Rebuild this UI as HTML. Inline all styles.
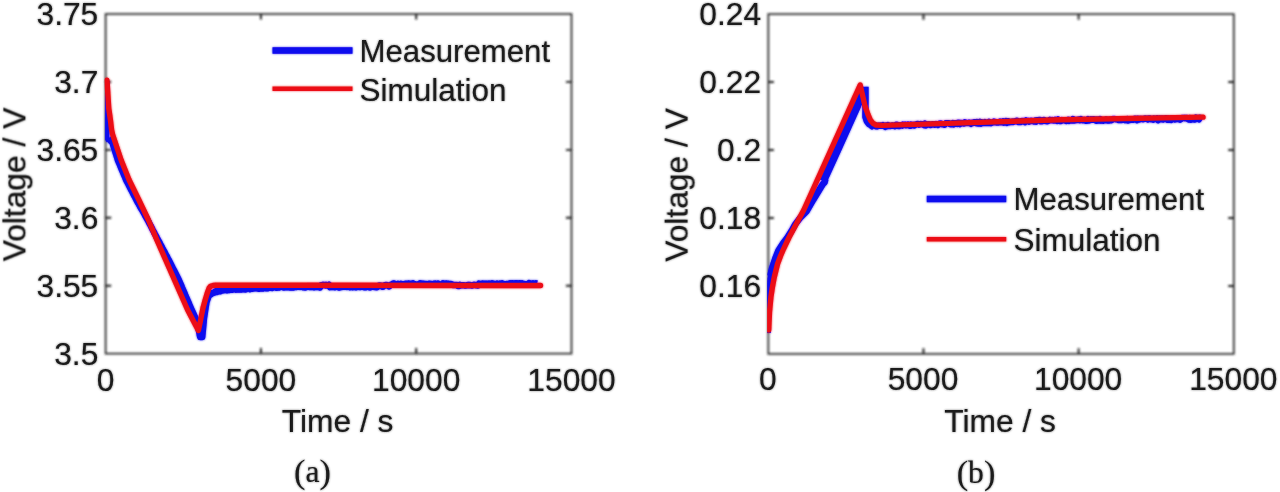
<!DOCTYPE html>
<html lang="en"><head><meta charset="utf-8"><title>Voltage vs Time: Measurement and Simulation</title>
<style>html,body{margin:0;padding:0;background:#fff;}svg{display:block;}</style></head><body>
<svg width="1280" height="492" viewBox="0 0 1280 492">
<defs><filter id="bl1" filterUnits="userSpaceOnUse" x="0" y="0" width="1280" height="492"><feGaussianBlur stdDeviation="0.85"/></filter><filter id="bl2" x="-10%" y="-30%" width="120%" height="160%"><feGaussianBlur stdDeviation="0.8"/><feComponentTransfer result="b"><feFuncA type="linear" slope="0.55"/></feComponentTransfer><feMerge><feMergeNode in="b"/><feMergeNode in="SourceGraphic"/></feMerge></filter><filter id="bl3" filterUnits="userSpaceOnUse" x="0" y="0" width="1280" height="492"><feGaussianBlur stdDeviation="0.8"/><feComponentTransfer result="b"><feFuncA type="linear" slope="0.7"/></feComponentTransfer><feMerge><feMergeNode in="b"/><feMergeNode in="SourceGraphic"/></feMerge></filter></defs>
<rect width="1280" height="492" fill="#fff"/>
<g filter="url(#bl1)">
<rect x="105.6" y="14" width="465.9" height="339.6" fill="none" stroke="#202020" stroke-width="1.65"/>
<path d="M260.90 353.6v-5.6M260.90 14v5.6" stroke="#1a1a1a" stroke-width="1.9"/>
<path d="M416.20 353.6v-5.6M416.20 14v5.6" stroke="#1a1a1a" stroke-width="1.9"/>
<path d="M105.6 81.92h5.6M571.5 81.92h-5.6" stroke="#1a1a1a" stroke-width="1.9"/>
<path d="M105.6 149.84h5.6M571.5 149.84h-5.6" stroke="#1a1a1a" stroke-width="1.9"/>
<path d="M105.6 217.76h5.6M571.5 217.76h-5.6" stroke="#1a1a1a" stroke-width="1.9"/>
<path d="M105.6 285.68h5.6M571.5 285.68h-5.6" stroke="#1a1a1a" stroke-width="1.9"/>
</g>
<clipPath id="ca"><rect x="104.39999999999999" y="14" width="467.09999999999997" height="339.6"/></clipPath>
<g clip-path="url(#ca)" filter="url(#bl3)">
<polyline points="107.3,81.0 107.3,139.0 108.6,141.0" fill="none" stroke="#0c08ee" stroke-width="4.4" stroke-linejoin="round" stroke-linecap="butt"/>
<polyline points="108.4,138.5 109.4,139.5 110.4,140.5 111.5,141.5 112.5,142.5 113.6,146.2 114.8,150.0 115.8,153.3 116.9,156.7 117.9,160.0 118.9,162.5 120.0,165.0 121.0,167.5 122.0,170.0 123.1,172.5 124.1,175.0 125.2,177.5 126.2,180.0 127.2,182.0 128.3,184.0 129.3,186.0 130.3,188.0 131.3,190.0 132.4,192.0 133.4,194.0 134.4,196.0 135.5,198.0 136.5,200.0 137.5,201.8 138.5,203.6 139.5,205.5 140.5,207.3 141.5,209.1 142.6,210.9 143.6,212.7 144.6,214.5 145.6,216.4 146.6,218.2 147.6,220.0 148.7,222.0 149.7,224.0 150.8,226.0 151.8,228.0 152.8,230.0 153.9,232.0 154.9,234.0 156.0,236.0 157.0,238.0 158.1,240.0 159.2,242.0 160.2,244.0 161.3,246.0 162.3,248.0 163.4,250.0 164.5,252.0 165.5,254.0 166.6,256.0 167.6,258.0 168.7,260.0 169.7,262.0 170.7,264.0 171.7,266.0 172.7,268.0 173.8,270.0 174.8,272.0 175.8,274.0 176.8,276.0 177.8,278.0 178.8,280.0 179.9,282.5 181.0,285.0 182.0,287.5 183.1,290.0 184.2,292.5 185.2,295.0 186.3,297.5 187.4,300.0 188.5,302.5 189.5,305.0 190.6,307.5 191.7,310.0 192.8,312.4 193.9,314.8 195.0,317.2 196.1,319.6 197.2,322.0 198.2,327.0 199.2,332.0 200.2,337.0 201.2,337.0 202.2,337.0 204.0,318.0 205.2,310.0 206.5,302.0 207.5,299.1 208.5,296.3 209.8,294.8 211.0,294.1 212.0,293.3 213.0,293.1 214.0,292.7 215.0,291.5 216.0,291.2 217.0,291.9 218.0,290.9 219.0,290.7 220.0,291.3 221.0,290.4 222.0,290.6 223.0,290.1 224.0,290.2 225.0,289.6 226.0,290.1 227.0,290.3 228.0,289.8 229.0,290.0 230.0,289.8 231.0,289.0 232.0,289.8 233.0,289.5 234.0,289.1 235.0,288.7 236.0,289.6 237.0,289.1 238.0,289.4 239.0,289.5 240.0,289.3 241.0,289.5 242.0,288.8 243.0,289.3 244.0,288.8 245.0,289.4 246.0,289.3 247.0,288.3 248.0,288.3 249.0,288.3 250.0,289.2 251.0,288.5 252.0,288.7 253.0,288.3 254.0,288.4 255.0,288.2 256.0,288.2 257.0,288.4 258.0,288.3 259.0,288.7 260.0,288.3 261.0,288.6 262.0,288.4 263.0,288.5 264.0,288.1 265.0,287.4 266.0,288.2 267.0,288.3 268.0,288.2 269.0,287.7 270.0,287.8 271.0,287.2 272.0,287.9 273.0,287.5 274.0,287.1 275.0,286.8 276.0,287.7 277.0,287.8 278.0,286.7 279.0,287.5 280.0,286.9 281.0,286.6 282.0,286.7 283.0,287.3 284.0,287.4 285.0,286.4 286.0,287.1 287.0,286.4 288.0,287.2 289.0,286.7 290.0,287.4 291.0,287.5 292.0,286.9 293.0,287.5 294.0,286.6 295.0,286.3 296.0,287.0 297.0,286.3 298.0,286.5 299.0,286.7 300.0,286.9 301.0,286.4 302.0,286.3 303.0,287.2 304.0,286.6 305.0,287.4 306.0,287.3 307.0,286.7 308.0,286.8 309.0,286.8 310.0,287.0 311.0,286.9 312.0,286.9 313.0,286.9 314.0,287.3 315.0,286.8 316.0,286.7 317.0,287.1 318.0,286.5 319.0,286.6 320.0,287.4 321.0,285.3 322.0,285.4 323.0,284.7 324.0,285.2 325.0,285.4 326.0,284.7 327.0,285.4 328.0,285.5 329.0,284.8 330.0,287.1 331.0,286.9 332.0,287.1 333.0,286.7 334.0,287.1 335.0,287.2 336.0,286.3 337.0,286.4 338.0,287.1 339.0,287.5 340.0,286.6 341.0,286.8 342.0,287.0 343.0,286.7 344.0,286.7 345.0,286.7 346.0,286.7 347.0,287.0 348.0,286.7 349.0,286.8 350.0,287.2 351.0,286.3 352.0,287.0 353.0,287.2 354.0,286.7 355.0,286.6 356.0,287.3 357.0,286.6 358.0,286.5 359.0,286.8 360.0,287.1 361.0,286.4 362.0,286.7 363.0,286.7 364.0,287.3 365.0,286.8 366.0,287.3 367.0,286.5 368.0,286.7 369.0,287.1 370.0,287.4 371.0,286.8 372.0,286.6 373.0,286.4 374.0,286.9 375.0,286.5 376.0,287.3 377.0,287.3 378.0,286.5 379.0,285.7 380.0,285.4 381.0,285.8 382.0,286.7 383.0,286.8 384.0,285.7 385.0,285.1 386.0,284.9 387.0,284.9 388.0,285.6 389.0,286.4 390.0,285.6 391.0,284.7 392.0,284.5 393.0,283.6 394.0,283.4 395.0,284.5 396.0,284.5 397.0,284.6 398.0,283.9 399.0,284.5 400.0,284.5 401.0,283.7 402.0,284.3 403.0,284.4 404.0,284.2 405.0,284.0 406.0,283.7 407.0,283.8 408.0,283.7 409.0,283.5 410.0,284.1 411.0,283.7 412.0,284.4 413.0,283.5 414.0,284.5 415.0,284.2 416.0,284.5 417.0,284.5 418.0,284.5 419.0,284.1 420.0,283.4 421.0,284.3 422.0,283.6 423.0,283.8 424.0,284.2 425.0,284.0 426.0,283.9 427.0,284.5 428.0,284.1 429.0,283.8 430.0,283.7 431.0,284.4 432.0,284.0 433.0,284.3 434.0,283.8 435.0,283.6 436.0,284.0 437.0,284.4 438.0,283.6 439.0,284.4 440.0,284.5 441.0,284.4 442.0,284.4 443.0,283.4 444.0,284.2 445.0,284.4 446.0,283.5 447.0,283.7 448.0,283.7 449.0,284.0 450.0,283.9 451.0,284.0 452.0,284.3 453.0,284.9 454.0,285.0 455.0,285.0 456.0,285.0 457.0,285.0 458.0,286.0 459.0,285.9 460.0,284.9 461.0,285.4 462.0,285.2 463.0,285.2 464.0,285.2 465.0,285.6 466.0,285.5 467.0,285.2 468.0,285.0 469.0,285.2 470.0,284.9 471.0,285.4 472.0,285.6 473.0,285.2 474.0,284.8 475.0,284.9 476.0,285.2 477.0,285.4 478.0,285.6 479.0,283.7 480.0,284.2 481.0,283.9 482.0,283.7 483.0,283.6 484.0,283.8 485.0,284.0 486.0,283.7 487.0,284.0 488.0,283.8 489.0,283.5 490.0,283.8 491.0,284.0 492.0,283.3 493.0,283.7 494.0,283.7 495.0,284.3 496.0,284.3 497.0,283.6 498.0,284.3 499.0,284.1 500.0,283.5 501.0,283.8 502.0,283.3 503.0,284.2 504.0,284.0 505.0,284.3 506.0,284.2 507.0,284.0 508.0,284.1 509.0,283.9 510.0,283.3 511.0,283.9 512.0,283.2 513.0,283.4 514.0,284.1 515.0,283.3 516.0,283.3 517.0,283.3 518.0,284.3 519.0,283.4 520.0,283.2 521.0,284.2 522.0,283.3 523.0,284.2 524.0,284.0 525.0,284.2 526.0,284.3 527.0,283.9 528.0,284.2 529.0,283.2 530.0,284.1 531.0,283.8 532.0,284.1 533.0,283.3 534.0,284.1 535.0,284.3 536.0,283.3 537.0,283.6" fill="none" stroke="#0c08ee" stroke-width="6.5" stroke-linejoin="round" stroke-linecap="butt"/>
<polyline points="107.0,80.3 108.7,108.0 110.4,120.0 111.6,130.0 112.6,134.5 121.1,160.0 129.1,180.0 138.9,200.0 148.4,220.0 156.9,240.0 174.5,280.0 187.7,310.0 198.4,330.5 200.2,322.0 203.0,308.0 205.2,300.0 207.3,293.0 209.0,288.3 210.6,286.3 213.0,285.5 216.0,285.3 300.0,285.3 540.5,285.5" fill="none" stroke="#ec0e14" stroke-width="5.4" stroke-linejoin="round" stroke-linecap="round"/>
</g>
<text filter="url(#bl2)" transform="translate(98.30 25.20) scale(1.025 1)" text-anchor="end" font-family='"Liberation Sans", Arial, Helvetica, sans-serif' font-size="31" fill="#1a1a1a" stroke="#1a1a1a" stroke-width="0.1">3.75</text>
<text filter="url(#bl2)" transform="translate(98.30 93.12) scale(1.025 1)" text-anchor="end" font-family='"Liberation Sans", Arial, Helvetica, sans-serif' font-size="31" fill="#1a1a1a" stroke="#1a1a1a" stroke-width="0.1">3.7</text>
<text filter="url(#bl2)" transform="translate(98.30 161.04) scale(1.025 1)" text-anchor="end" font-family='"Liberation Sans", Arial, Helvetica, sans-serif' font-size="31" fill="#1a1a1a" stroke="#1a1a1a" stroke-width="0.1">3.65</text>
<text filter="url(#bl2)" transform="translate(98.30 228.96) scale(1.025 1)" text-anchor="end" font-family='"Liberation Sans", Arial, Helvetica, sans-serif' font-size="31" fill="#1a1a1a" stroke="#1a1a1a" stroke-width="0.1">3.6</text>
<text filter="url(#bl2)" transform="translate(98.30 296.88) scale(1.025 1)" text-anchor="end" font-family='"Liberation Sans", Arial, Helvetica, sans-serif' font-size="31" fill="#1a1a1a" stroke="#1a1a1a" stroke-width="0.1">3.55</text>
<text filter="url(#bl2)" transform="translate(98.30 364.80) scale(1.025 1)" text-anchor="end" font-family='"Liberation Sans", Arial, Helvetica, sans-serif' font-size="31" fill="#1a1a1a" stroke="#1a1a1a" stroke-width="0.1">3.5</text>
<text filter="url(#bl2)" transform="translate(105.60 390.50) scale(1.025 1)" text-anchor="middle" font-family='"Liberation Sans", Arial, Helvetica, sans-serif' font-size="31" fill="#1a1a1a" stroke="#1a1a1a" stroke-width="0.1">0</text>
<text filter="url(#bl2)" transform="translate(260.90 390.50) scale(1.025 1)" text-anchor="middle" font-family='"Liberation Sans", Arial, Helvetica, sans-serif' font-size="31" fill="#1a1a1a" stroke="#1a1a1a" stroke-width="0.1">5000</text>
<text filter="url(#bl2)" transform="translate(416.20 390.50) scale(1.025 1)" text-anchor="middle" font-family='"Liberation Sans", Arial, Helvetica, sans-serif' font-size="31" fill="#1a1a1a" stroke="#1a1a1a" stroke-width="0.1">10000</text>
<text filter="url(#bl2)" transform="translate(571.50 390.50) scale(1.025 1)" text-anchor="middle" font-family='"Liberation Sans", Arial, Helvetica, sans-serif' font-size="31" fill="#1a1a1a" stroke="#1a1a1a" stroke-width="0.1">15000</text>
<text filter="url(#bl2)" transform="translate(337.55 431.50) scale(1.025 1)" text-anchor="middle" font-family='"Liberation Sans", Arial, Helvetica, sans-serif' font-size="31" fill="#1a1a1a" stroke="#1a1a1a" stroke-width="0.1">Time / s</text>
<text filter="url(#bl2)" transform="translate(25.40 184.50) rotate(-90) scale(1.025 1)" text-anchor="middle" font-family='"Liberation Sans", Arial, Helvetica, sans-serif' font-size="31" fill="#1a1a1a" stroke="#1a1a1a" stroke-width="0.1">Voltage / V</text>
<text filter="url(#bl2)" transform="translate(312.40 482.30) scale(1.02 1)" text-anchor="middle" font-family='"Liberation Serif", "Times New Roman", Times, serif' font-size="31" fill="#1a1a1a" stroke="#1a1a1a" stroke-width="0.1"><tspan font-size="33.7" dy="0.7">(</tspan><tspan dy="-0.7">a</tspan><tspan font-size="33.7" dy="0.7">)</tspan></text>
<g filter="url(#bl3)"><path d="M272.5 50.6H352.5" stroke="#0c08ee" stroke-width="6.5"/>
<path d="M272.5 88.8H352.5" stroke="#ec0e14" stroke-width="4.5"/></g>
<text filter="url(#bl2)" transform="translate(359.50 62.00) scale(1.006 1)" text-anchor="start" font-family='"Liberation Sans", Arial, Helvetica, sans-serif' font-size="31" fill="#1a1a1a" stroke="#1a1a1a" stroke-width="0.1">Measurement</text>
<text filter="url(#bl2)" transform="translate(359.50 101.00) scale(1.016 1)" text-anchor="start" font-family='"Liberation Sans", Arial, Helvetica, sans-serif' font-size="31" fill="#1a1a1a" stroke="#1a1a1a" stroke-width="0.1">Simulation</text>
<g filter="url(#bl1)">
<rect x="768.3" y="14.1" width="465.5" height="339.79999999999995" fill="none" stroke="#202020" stroke-width="1.65"/>
<path d="M923.47 353.9v-5.6M923.47 14.1v5.6" stroke="#1a1a1a" stroke-width="1.9"/>
<path d="M1078.63 353.9v-5.6M1078.63 14.1v5.6" stroke="#1a1a1a" stroke-width="1.9"/>
<path d="M768.3 82.06h5.6M1233.8 82.06h-5.6" stroke="#1a1a1a" stroke-width="1.9"/>
<path d="M768.3 150.02h5.6M1233.8 150.02h-5.6" stroke="#1a1a1a" stroke-width="1.9"/>
<path d="M768.3 217.98h5.6M1233.8 217.98h-5.6" stroke="#1a1a1a" stroke-width="1.9"/>
<path d="M768.3 285.94h5.6M1233.8 285.94h-5.6" stroke="#1a1a1a" stroke-width="1.9"/>
</g>
<clipPath id="cb"><rect x="767.0999999999999" y="14.1" width="466.7" height="339.79999999999995"/></clipPath>
<g clip-path="url(#cb)" filter="url(#bl3)">
<polyline points="768.6,333.0 768.7,290.0 769.6,279.0 771.0,272.0" fill="none" stroke="#0c08ee" stroke-width="4.4" stroke-linejoin="round" stroke-linecap="butt"/>
<polyline points="770.3,276.0 772.0,268.5 775.3,258.5 778.5,250.5 783.0,243.5 787.5,237.5 791.5,231.0 795.2,224.4 800.0,218.0 806.8,211.0 813.1,200.0 822.5,184.5 824.6,182.3 825.4,179.0" fill="none" stroke="#0c08ee" stroke-width="6.5" stroke-linejoin="round" stroke-linecap="butt"/>
<polyline points="823.2,181.0 824.5,178.0 837.2,150.0 850.7,120.0 859.7,100.0 863.3,92.0" fill="none" stroke="#0c08ee" stroke-width="8" stroke-linejoin="round" stroke-linecap="butt"/>
<polyline points="865.4,86.8 865.5,117.0 866.8,121.0 867.9,122.5 869.0,124.0 870.0,124.5 871.0,125.2 872.0,126.2 873.0,125.2 874.0,125.2 875.0,125.4 876.0,126.2 877.0,126.4 878.0,125.8 879.0,125.7 880.0,125.7 881.0,125.6 882.0,125.8 883.0,125.1 884.0,125.8 885.0,126.7 886.0,125.6 887.0,126.2 888.0,125.1 889.0,126.0 890.0,126.1 891.0,125.9 892.0,125.6 893.0,125.5 894.0,125.8 895.0,126.2 896.0,124.8 897.0,124.7 898.0,125.8 899.0,126.1 900.0,125.3 901.0,125.2 902.0,125.6 903.0,124.6 904.0,124.8 905.0,124.6 906.0,125.3 907.0,124.7 908.0,124.6 909.0,125.4 910.0,125.8 911.0,124.6 912.0,125.3 913.0,124.7 914.0,125.5 915.0,125.0 916.0,124.4 917.0,124.2 918.0,123.9 919.0,124.7 920.0,124.4 921.0,124.0 922.0,124.3 923.0,124.2 924.0,125.0 925.0,123.8 926.0,125.3 927.0,124.4 928.0,124.6 929.0,124.3 930.0,124.9 931.0,124.9 932.0,124.4 933.0,124.2 934.0,124.6 935.0,124.8 936.0,124.0 937.0,124.5 938.0,124.9 939.0,124.0 940.0,123.5 941.0,123.5 942.0,124.3 943.0,124.2 944.0,124.7 945.0,124.5 946.0,123.3 947.0,123.2 948.0,123.3 949.0,123.2 950.0,124.1 951.0,124.3 952.0,124.3 953.0,123.1 954.0,124.2 955.0,123.2 956.0,123.4 957.0,123.9 958.0,122.7 959.0,122.7 960.0,124.0 961.0,123.0 962.0,123.0 963.0,123.4 964.0,123.6 965.0,122.3 966.0,122.9 967.0,123.0 968.0,123.1 969.0,122.6 970.0,123.2 971.0,123.8 972.0,122.8 973.0,123.0 974.0,122.2 975.0,122.5 976.0,123.2 977.0,122.1 978.0,123.5 979.0,123.5 980.0,122.0 981.0,123.5 982.0,122.4 983.0,123.1 984.0,123.1 985.0,122.2 986.0,122.9 987.0,122.8 988.0,123.0 989.0,122.0 990.0,122.9 991.0,123.2 992.0,122.7 993.0,122.4 994.0,121.6 995.0,122.2 996.0,122.0 997.0,122.6 998.0,122.5 999.0,122.3 1000.0,121.5 1001.0,122.3 1002.0,122.3 1003.0,121.4 1004.0,122.7 1005.0,122.2 1006.0,121.2 1007.0,122.7 1008.0,121.2 1009.0,121.5 1010.0,122.2 1011.0,121.9 1012.0,121.8 1013.0,122.0 1014.0,121.6 1015.0,121.3 1016.0,121.0 1017.0,120.8 1018.0,121.9 1019.0,122.0 1020.0,121.5 1021.0,121.9 1022.0,121.1 1023.0,121.0 1024.0,121.1 1025.0,122.0 1026.0,120.5 1027.0,121.3 1028.0,120.8 1029.0,121.7 1030.0,120.9 1031.0,120.8 1032.0,120.9 1033.0,121.1 1034.0,121.5 1035.0,120.7 1036.0,121.6 1037.0,120.2 1038.0,120.5 1039.0,120.1 1040.0,120.1 1041.0,121.3 1042.0,121.2 1043.0,120.2 1044.0,120.1 1045.0,120.5 1046.0,121.1 1047.0,121.2 1048.0,121.0 1049.0,120.7 1050.0,119.9 1051.0,120.3 1052.0,119.9 1053.0,120.5 1054.0,120.5 1055.0,119.8 1056.0,119.9 1057.0,120.8 1058.0,119.4 1059.0,120.8 1060.0,120.9 1061.0,121.0 1062.0,120.0 1063.0,120.3 1064.0,120.3 1065.0,120.4 1066.0,121.0 1067.0,120.5 1068.0,119.8 1069.0,120.8 1070.0,120.1 1071.0,120.3 1072.0,120.5 1073.0,119.2 1074.0,120.6 1075.0,120.4 1076.0,120.1 1077.0,120.1 1078.0,120.0 1079.0,119.5 1080.0,120.1 1081.0,119.2 1082.0,120.0 1083.0,120.3 1084.0,119.9 1085.0,120.1 1086.0,120.8 1087.0,120.7 1088.0,119.3 1089.0,120.5 1090.0,120.2 1091.0,119.2 1092.0,119.7 1093.0,119.5 1094.0,119.2 1095.0,120.0 1096.0,120.7 1097.0,119.6 1098.0,120.6 1099.0,120.3 1100.0,119.3 1101.0,120.6 1102.0,120.1 1103.0,120.7 1104.0,120.3 1105.0,120.3 1106.0,119.6 1107.0,120.4 1108.0,120.6 1109.0,120.5 1110.0,119.7 1111.0,120.3 1112.0,119.8 1113.0,119.1 1114.0,119.0 1115.0,119.0 1116.0,119.3 1117.0,119.2 1118.0,119.8 1119.0,120.1 1120.0,119.8 1121.0,119.6 1122.0,120.0 1123.0,119.4 1124.0,119.7 1125.0,120.2 1126.0,119.6 1127.0,119.1 1128.0,120.4 1129.0,120.1 1130.0,119.5 1131.0,119.5 1132.0,119.7 1133.0,119.8 1134.0,119.1 1135.0,118.7 1136.0,119.1 1137.0,120.1 1138.0,118.9 1139.0,119.5 1140.0,119.0 1141.0,119.0 1142.0,118.9 1143.0,119.3 1144.0,118.9 1145.0,118.6 1146.0,118.7 1147.0,118.8 1148.0,119.4 1149.0,118.6 1150.0,118.5 1151.0,119.3 1152.0,119.2 1153.0,119.7 1154.0,118.5 1155.0,119.1 1156.0,119.1 1157.0,118.4 1158.0,120.1 1159.0,118.7 1160.0,118.5 1161.0,119.1 1162.0,118.6 1163.0,119.4 1164.0,118.8 1165.0,118.4 1166.0,118.3 1167.0,119.5 1168.0,118.7 1169.0,119.6 1170.0,119.0 1171.0,119.8 1172.0,118.6 1173.0,118.5 1174.0,118.5 1175.0,119.5 1176.0,119.2 1177.0,118.6 1178.0,118.2 1179.0,119.2 1180.0,119.7 1181.0,119.0 1182.0,117.9 1183.0,118.0 1184.0,118.1 1185.0,118.2 1186.0,117.9 1187.0,117.9 1188.0,119.0 1189.0,119.4 1190.0,118.1 1191.0,119.5 1192.0,118.6 1193.0,119.2 1194.0,119.4 1195.0,119.4 1196.0,117.7 1197.0,118.2 1198.0,118.7 1199.0,119.3 1200.0,117.8 1201.0,118.1" fill="none" stroke="#0c08ee" stroke-width="6.5" stroke-linejoin="round" stroke-linecap="butt"/>
<polyline points="768.7,330.0 769.5,312.0 770.9,297.0 772.4,287.0 774.3,277.0 777.5,264.0 780.5,256.0 783.6,248.8 789.0,237.5 795.8,224.8 803.8,210.0 860.2,85.0 862.5,95.0 865.0,106.0 868.0,114.7 870.5,120.3 873.0,123.4 876.0,125.0 882.0,125.4 940.0,123.6 1060.0,119.8 1203.0,117.1" fill="none" stroke="#ec0e14" stroke-width="5.4" stroke-linejoin="round" stroke-linecap="round"/>
</g>
<text filter="url(#bl2)" transform="translate(761.20 25.00) scale(1.025 1)" text-anchor="end" font-family='"Liberation Sans", Arial, Helvetica, sans-serif' font-size="31" fill="#1a1a1a" stroke="#1a1a1a" stroke-width="0.1">0.24</text>
<text filter="url(#bl2)" transform="translate(761.20 92.96) scale(1.025 1)" text-anchor="end" font-family='"Liberation Sans", Arial, Helvetica, sans-serif' font-size="31" fill="#1a1a1a" stroke="#1a1a1a" stroke-width="0.1">0.22</text>
<text filter="url(#bl2)" transform="translate(761.20 160.92) scale(1.025 1)" text-anchor="end" font-family='"Liberation Sans", Arial, Helvetica, sans-serif' font-size="31" fill="#1a1a1a" stroke="#1a1a1a" stroke-width="0.1">0.2</text>
<text filter="url(#bl2)" transform="translate(761.20 228.88) scale(1.025 1)" text-anchor="end" font-family='"Liberation Sans", Arial, Helvetica, sans-serif' font-size="31" fill="#1a1a1a" stroke="#1a1a1a" stroke-width="0.1">0.18</text>
<text filter="url(#bl2)" transform="translate(761.20 296.84) scale(1.025 1)" text-anchor="end" font-family='"Liberation Sans", Arial, Helvetica, sans-serif' font-size="31" fill="#1a1a1a" stroke="#1a1a1a" stroke-width="0.1">0.16</text>
<text filter="url(#bl2)" transform="translate(767.80 390.10) scale(1.025 1)" text-anchor="middle" font-family='"Liberation Sans", Arial, Helvetica, sans-serif' font-size="31" fill="#1a1a1a" stroke="#1a1a1a" stroke-width="0.1">0</text>
<text filter="url(#bl2)" transform="translate(922.97 390.10) scale(1.025 1)" text-anchor="middle" font-family='"Liberation Sans", Arial, Helvetica, sans-serif' font-size="31" fill="#1a1a1a" stroke="#1a1a1a" stroke-width="0.1">5000</text>
<text filter="url(#bl2)" transform="translate(1078.13 390.10) scale(1.025 1)" text-anchor="middle" font-family='"Liberation Sans", Arial, Helvetica, sans-serif' font-size="31" fill="#1a1a1a" stroke="#1a1a1a" stroke-width="0.1">10000</text>
<text filter="url(#bl2)" transform="translate(1233.30 390.10) scale(1.025 1)" text-anchor="middle" font-family='"Liberation Sans", Arial, Helvetica, sans-serif' font-size="31" fill="#1a1a1a" stroke="#1a1a1a" stroke-width="0.1">15000</text>
<text filter="url(#bl2)" transform="translate(1000.05 431.50) scale(1.025 1)" text-anchor="middle" font-family='"Liberation Sans", Arial, Helvetica, sans-serif' font-size="31" fill="#1a1a1a" stroke="#1a1a1a" stroke-width="0.1">Time / s</text>
<text filter="url(#bl2)" transform="translate(687.60 185.00) rotate(-90) scale(1.025 1)" text-anchor="middle" font-family='"Liberation Sans", Arial, Helvetica, sans-serif' font-size="31" fill="#1a1a1a" stroke="#1a1a1a" stroke-width="0.1">Voltage / V</text>
<text filter="url(#bl2)" transform="translate(976.00 482.80) scale(1.02 1)" text-anchor="middle" font-family='"Liberation Serif", "Times New Roman", Times, serif' font-size="31" fill="#1a1a1a" stroke="#1a1a1a" stroke-width="0.1"><tspan font-size="33.7" dy="0.7">(</tspan><tspan dy="-0.7">b</tspan><tspan font-size="33.7" dy="0.7">)</tspan></text>
<g filter="url(#bl3)"><path d="M926.75 199.1H1006.25" stroke="#0c08ee" stroke-width="6.5"/>
<path d="M926.75 239.2H1006.25" stroke="#ec0e14" stroke-width="4.5"/></g>
<text filter="url(#bl2)" transform="translate(1013.50 210.00) scale(1.006 1)" text-anchor="start" font-family='"Liberation Sans", Arial, Helvetica, sans-serif' font-size="31" fill="#1a1a1a" stroke="#1a1a1a" stroke-width="0.1">Measurement</text>
<text filter="url(#bl2)" transform="translate(1013.50 250.50) scale(1.016 1)" text-anchor="start" font-family='"Liberation Sans", Arial, Helvetica, sans-serif' font-size="31" fill="#1a1a1a" stroke="#1a1a1a" stroke-width="0.1">Simulation</text>
</svg></body></html>
